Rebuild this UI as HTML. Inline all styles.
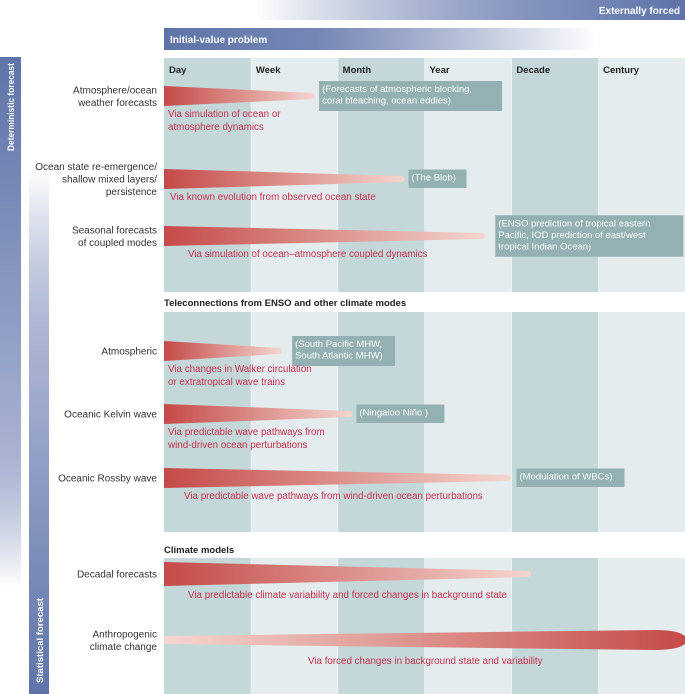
<!DOCTYPE html>
<html><head><meta charset="utf-8"><style>
html,body{margin:0;padding:0;background:#fff;}
svg{display:block;font-family:"Liberation Sans",sans-serif;}
</style></head><body>
<svg id="c" width="685" height="694" viewBox="0 0 685 694">
<defs>
<linearGradient id="gExt" x1="0" x2="1"><stop offset="0" stop-color="#5e74a8" stop-opacity="0"/><stop offset="0.6" stop-color="#8797c0"/><stop offset="1" stop-color="#5e74a8"/></linearGradient>
<linearGradient id="gIvp" x1="0" x2="1"><stop offset="0" stop-color="#5e74a8"/><stop offset="0.35" stop-color="#7486b4"/><stop offset="1" stop-color="#5e74a8" stop-opacity="0"/></linearGradient>
<linearGradient id="gDet" x1="0" y1="0" x2="0" y2="1"><stop offset="0" stop-color="#5e74a8"/><stop offset="0.7" stop-color="#a3aed0"/><stop offset="1" stop-color="#5e74a8" stop-opacity="0"/></linearGradient>
<linearGradient id="gSta" x1="0" y1="0" x2="0" y2="1"><stop offset="0" stop-color="#5e74a8" stop-opacity="0"/><stop offset="0.4" stop-color="#a3aed0"/><stop offset="1" stop-color="#5e74a8"/></linearGradient>
<linearGradient id="gW" x1="0" x2="1"><stop offset="0" stop-color="#c44a48"/><stop offset="1" stop-color="#f4d6cf"/></linearGradient>
<linearGradient id="gWr" x1="0" x2="1"><stop offset="0" stop-color="#f4d6cf"/><stop offset="1" stop-color="#c44a48"/></linearGradient>
</defs>
<rect x="255" y="0" width="430" height="20" fill="url(#gExt)"/>
<text x="680" y="14" text-anchor="end" font-size="10" font-weight="bold" fill="#fff">Externally forced</text>
<rect x="164" y="28" width="432" height="22" fill="url(#gIvp)"/>
<text x="170" y="43" font-size="10" font-weight="bold" fill="#fff">Initial-value problem</text>
<rect x="0" y="57" width="21" height="530" fill="url(#gDet)"/>
<text transform="translate(14,151) rotate(-90)" font-size="9" font-weight="bold" fill="#fff" textLength="88" lengthAdjust="spacingAndGlyphs">Deterministic forecast</text>
<rect x="29" y="170" width="20" height="524" fill="url(#gSta)"/>
<text transform="translate(43,683) rotate(-90)" font-size="9" font-weight="bold" fill="#fff" textLength="85" lengthAdjust="spacingAndGlyphs">Statistical forecast</text>
<g id="cols"></g>
<g id="marks"></g>
</svg>
<script>
const columns = ["Day","Week","Month","Year","Decade","Century"];
const panels = [[58,292],[312,532],[558,694]];
const sectionTitles = ["Teleconnections from ENSO  and other climate modes","Climate models"];
const sectionY = [306,553];
const rowLabels = [["Atmosphere/ocean","weather forecasts"],["Ocean state re-emergence/","shallow mixed layers/","persistence"],["Seasonal forecasts","of coupled modes"],["Atmospheric"],["Oceanic Kelvin wave"],["Oceanic Rossby wave"],["Decadal forecasts"],["Anthropogenic","climate change"]];
const rowY = [96,179,236,351,414,478,574,640];
// wedge reach in column units (0 = start of Day, 6 = end of Century)
const reach = [1.74,2.77,3.7,1.36,2.17,3.99,4.23,6];
const annotations = [["(Forecasts of atmospheric blocking,","coral bleaching, ocean eddies)"],["(The Blob)"],["(ENSO prediction of tropical eastern","Pacific, IOD prediction of east/west","tropical Indian Ocean)"],["(South Pacific MHW,","South Atlantic MHW)"],["(Ningaloo Niño )"],["(Modulation of WBCs)"],[],[]];
const mechanisms = [["Via simulation of ocean or","atmosphere  dynamics"],["Via known evolution from observed ocean state"],["Via simulation of ocean–atmosphere coupled dynamics"],["Via changes in Walker circulation","or extratropical wave trains"],["Via predictable wave pathways from","wind-driven ocean perturbations"],["Via predictable wave pathways from wind-driven ocean perturbations"],["Via predictable climate variability and forced changes in background state"],["Via forced changes in background state and variability"]];
const mechIndent = [4,6,24,4,4,20,24,144];

const NS="http://www.w3.org/2000/svg";
const x0=164, colW=(685-164)/6;
const xs=u=>x0+u*colW;
function mk(tag,attrs,parent,txt){const e=document.createElementNS(NS,tag);for(const k in attrs)e.setAttribute(k,attrs[k]);if(txt!==undefined)e.textContent=txt;parent.appendChild(e);return e;}
const cg=document.getElementById('cols'), mg=document.getElementById('marks');
panels.forEach((p,pi)=>{columns.forEach((c,i)=>{
  const r=mk('rect',{x:xs(i)+(i?0.5:0),y:p[0],width:colW-(i?0.5:0),height:p[1]-p[0],fill:i%2===0?'#c4d7d9':'#e4eced'},cg);
  
  
});});
columns.forEach((c,i)=>{
  const t=mk('text',{x:xs(i)+5,y:73,'font-size':9.5,'font-weight':'bold',fill:'#222'},cg,c);
  
  
});
sectionTitles.forEach((s,i)=>{
  const t=mk('text',{x:164,y:sectionY[i],'font-size':9.5,'font-weight':'bold',fill:'#222'},cg,s);
  
  
});
rowY.forEach((y,i)=>{
  const lines=rowLabels[i], lh=12.5, top=y-(lines.length-1)*lh/2+3.5;
  lines.forEach((l,j)=>{
    const t=mk('text',{x:157,y:top+j*lh,'font-size':10,'text-anchor':'end',fill:'#333'},mg,l);
    
    
  });
  const xe=xs(reach[i]);
  let w;
  if(i===7){
    w=mk('path',{d:`M164 ${y-4} L${xe-30} ${y-10} Q${xe} ${y-10} ${xe+2} ${y} Q${xe} ${y+10} ${xe-30} ${y+10} L164 ${y+4} Z`,fill:'url(#gWr)'},mg);
  } else {
    const h=i===6?12:10;
    w=mk('path',{d:`M164 ${y-h} L${xe-3} ${y-3} A3 3 0 0 1 ${xe-3} ${y+3} L164 ${y+h} Z`,fill:'url(#gW)'},mg);
  }
  
  
  const a=annotations[i];
  if(a.length){
    const bx=xe+(i===2?10:i===5?6:i===3?10:4), lh=11.5;
    const bw=Math.max(...a.map(s=>s.length))*5+8, bh=a.length*lh+7;
    const by=a.length===1?y-9.5:y-bh/2;
    const b=mk('rect',{x:bx,y:by,width:bw,height:bh,fill:'#93b1b3'},mg);
    
    
    a.forEach((s,j)=>{
      const t=mk('text',{x:bx+3,y:by+11+j*lh,'font-size':9.5,fill:'#fff'},mg,s);
      
      
    });
  }
  const m=mechanisms[i];
  const my=y+(i===7?24:i===6?24:21);
  m.forEach((s,j)=>{
    const t=mk('text',{x:164+mechIndent[i],y:my+j*13,'font-size':9.8,fill:'#c8324e'},mg,s);
    
    
  });
});
</script>
</body></html>
